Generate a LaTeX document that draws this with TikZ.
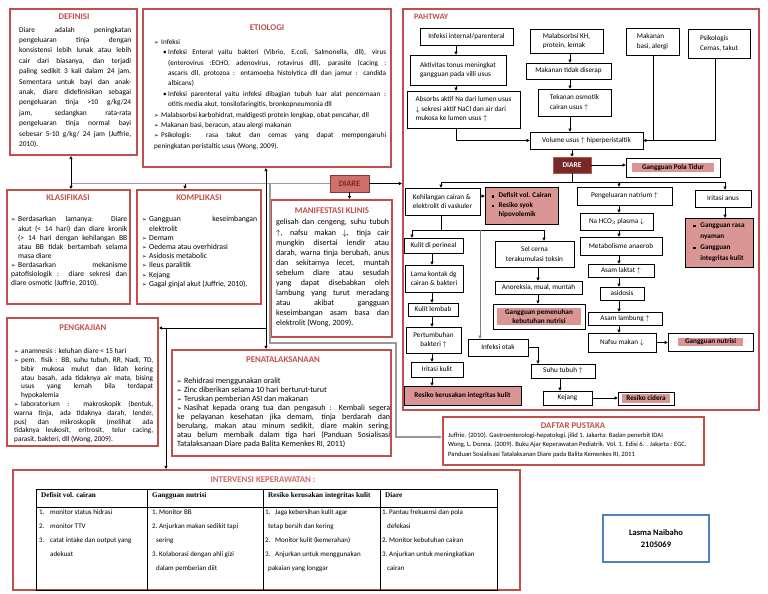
\documentclass[tikz,border=0pt]{standalone}
\usepackage{fontspec}
\setmainfont{Carlito}
\newfontfamily\dejavu{DejaVu Sans}
\newfontfamily\serifH{Liberation Serif}
\usetikzlibrary{arrows.meta}
\definecolor{boxred}{RGB}{192,80,77}
\definecolor{salm}{RGB}{217,150,148}
\definecolor{maroonD}{RGB}{118,42,40}
\definecolor{lblue}{RGB}{79,129,189}
\definecolor{diarefill}{RGB}{208,112,106}
\newcommand{\pfs}{\fontsize{7.2}{9.5}\selectfont}
\newcommand{\ttlfs}{\fontsize{8.8}{9}\selectfont\bfseries}
\newcommand{\bfz}[2]{\fontsize{#1}{#2}\selectfont}
\newcommand{\arw}{\makebox[7pt][l]{\dejavu\fontsize{5.6}{6}\selectfont ➢}}
\newcommand{\itm}{\par\leftskip=0pt\hangindent=7pt\hangafter=1\noindent\arw}
\newcommand{\sbl}{\par\leftskip=9pt\hangindent=5pt\hangafter=1\noindent\makebox[5pt][l]{•}}
\newcommand{\sq}{\makebox[7pt][l]{\rule[0.4pt]{2.4pt}{2.4pt}}}
\newcommand{\hl}[2]{{\setlength{\fboxsep}{0.8pt}\colorbox{salm}{\makebox[#1][c]{\rule[-1.9pt]{0pt}{7pt}#2}}}}
\newcommand{\nm}[2]{\makebox[#1][l]{#2}}
\newcommand{\B}[7][]{\node[pb,minimum width={#5-#3},minimum height={#6-#4},#1] (#2) at ({(#3+#5)/2},{(#4+#6)/2}) {#7};}
\tolerance=10000 \hbadness=10000
\begin{document}
\begin{tikzpicture}[x=1pt,y=-1pt,
  pb/.style={draw=black,line width=0.6pt,fill=white,inner sep=1pt,align=center,font=\pfs},
  rbox/.style={draw=boxred,line width=2.2pt,fill=white},
  ttl/.style={text=boxred,font=\ttlfs,inner sep=0pt},
  body/.style={anchor=north west,inner sep=0pt,align=justify},
  arr/.style={line width=0.6pt,-{Triangle[length=3pt,width=3pt]}},
  arrb/.style={line width=0.6pt,{Triangle[length=3pt,width=3pt]}-{Triangle[length=3pt,width=3pt]}},
  ln/.style={line width=0.6pt},
  gl/.style={draw=gray!80,line width=1.1pt},
  col/.style={anchor=north west,inner sep=0pt,align=left,font=\bfz{7}{14}},
  hdr/.style={anchor=base west,inner sep=0pt,font=\serifH\fontsize{7.2}{8}\selectfont\bfseries}
]
\useasboundingbox (0,0) rectangle (768,594);
\fill[white] (0,0) rectangle (768,594);

% ---------- red boxes ----------
\B[rbox]{defin}{10}{9}{137}{155}{}
\B[rbox]{etio}{143}{9}{391}{167}{}
\B[rbox]{klas}{7}{190}{130}{304}{}
\B[rbox]{komp}{137}{190}{261}{304}{}
\B[rbox]{manif}{271}{200}{392}{337}{}
\B[rbox]{pengk}{7}{318}{158}{446}{}
\B[rbox]{penat}{172}{350}{391}{456}{}
\B[rbox]{path}{403}{9}{759}{410}{}
\B[rbox]{daft}{443}{417}{704}{465}{}
\B[rbox]{interv}{13}{470}{520}{590}{}
\B[draw=lblue,line width=1.6pt,font=\fontsize{8.5}{12}\selectfont\bfseries]{lasma}{603}{515}{709}{562}{Lasma Naibaho\\2105069}

% ---------- titles ----------
\node[ttl] (tDef) at (74,17) {DEFINISI};
\node[ttl] (tEti) at (267,28) {ETIOLOGI};
\node[ttl] (tKla) at (68,198) {KLASIFIKASI};
\node[ttl] (tKom) at (199,198) {KOMPLIKASI};
\node[ttl] (tMan) at (332,211) {MANIFESTASI KLINIS};
\node[ttl] (tPen) at (83,328) {PENGKAJIAN};
\node[ttl] (tPnt) at (283,360) {PENATALAKSANAAN};
\node[ttl] (tDaf) at (573,426) {DAFTAR PUSTAKA};
\node[ttl,text=boxred!85] (tInt) at (263,480) {INTERVENSI KEPERAWATAN :};
\node[ttl,anchor=west,font=\fontsize{8.3}{9}\selectfont\bfseries] (tPat) at (414,17) {PAHTWAY};

% ---------- bodies ----------
\node[body,text width=112pt,font=\bfz{7.4}{10.4}] (bDef) at (19,26.7) {Diare adalah peningkatan\linebreak pengeluaran tinja dengan\linebreak konsistensi lebih lunak atau lebih\linebreak cair dari biasanya, dan terjadi\linebreak paling sedikit 3 kali dalam 24 jam.\linebreak Sementara untuk bayi dan anak-\linebreak anak, diare didefinisikan sebagai\linebreak pengeluaran tinja >10 g/kg/24\linebreak jam, sedangkan rata-rata\linebreak pengeluaran tinja normal bayi\linebreak sebesar 5-10 g/kg/ 24 jam (Juffrie,\linebreak 2010).};

\node[body,text width=232pt,font=\bfz{7.2}{10.4}] (bEti) at (154,33.8) {\itm Infeksi
\sbl Infeksi Enteral yaitu bakteri (Vibrio, E.coli, Salmonella, dll), virus\linebreak (enterovirus :ECHO, adenovirus, rotavirus dll), parasite (cacing :\linebreak ascaris dll, protozoa : entamoeba histolytica dll dan jamur : candida\linebreak albicans)
\sbl Infeksi parenteral yaitu infeksi dibagian tubuh luar alat pencernaan :\linebreak otitis media akut, tonsilofaringitis, bronkopneumonia dll
\itm Malabsorbsi karbohidrat, maldigesti protein lengkap, obat pencahar, dll
\itm Makanan basi, beracun, atau alergi makanan
\itm Psikologis: rasa takut dan cemas yang dapat mempengaruhi\linebreak peningkatan peristaltic usus (Wong, 2009).};

\node[body,text width=116pt,font=\bfz{7.5}{9.1}] (bKla) at (11,212.6) {\itm Berdasarkan lamanya: Diare\linebreak akut (< 14 hari) dan diare kronik\linebreak (> 14 hari dengan kehilangan BB\linebreak atau BB tidak bertambah selama\linebreak masa diare
\itm Berdasarkan mekanisme\linebreak patofisiologik : diare sekresi dan\linebreak diare osmotic (Juffrie, 2010).};

\node[body,text width=115pt,font=\bfz{7.7}{9.2}] (bKom) at (142,212.5) {\itm Gangguan keseimbangan\linebreak elektrolit
\itm Demam
\itm Oedema atau overhidrasi
\itm Asidosis metabolic
\itm Ileus paralitik
\itm Kejang
\itm Gagal ginjal akut (Juffrie, 2010).};

\node[body,text width=113pt,font=\bfz{8}{10.1}] (bMan) at (276,219.2) {gelisah dan cengeng, suhu tubuh\linebreak $\uparrow$, nafsu makan $\downarrow$, tinja cair\linebreak mungkin disertai lendir atau\linebreak darah, warna tinja berubah, anus\linebreak dan sekitarnya lecet, muntah\linebreak sebelum diare atau sesudah\linebreak yang dapat disebabkan oleh\linebreak lambung yang turut meradang\linebreak atau akibat gangguan\linebreak keseimbangan asam basa dan\linebreak elektrolit (Wong, 2009).};

\node[body,text width=139pt,font=\bfz{7.3}{8.8}] (bPen) at (14,344.7) {\itm anamnesis : keluhan diare < 15 hari
\itm pem. fisik : BB, suhu tubuh, RR, Nadi, TD,\linebreak bibir mukosa mulut dan lidah kering\linebreak atau basah, ada tidaknya air mata, bising\linebreak usus yang lemah bila terdapat\linebreak hypokalemia
\itm laboratorium : makroskopik (bentuk,\linebreak warna tinja, ada tidaknya darah, lender,\linebreak pus) dan mikroskopik (melihat ada\linebreak tidaknya leukosit, eritrosit, telur cacing,\linebreak parasit, bakteri, dll (Wong, 2009).};

\node[body,text width=213pt,font=\bfz{8}{9}] (bPnt) at (177,374.2) {\itm Rehidrasi menggunakan oralit
\itm Zinc diberikan selama 10 hari berturut-turut
\itm Teruskan pemberian ASI dan makanan
\itm \bfz{8}{10.9}Nasihat kepada orang tua dan pengasuh : Kembali segera\linebreak ke pelayanan kesehatan jika demam, tinja berdarah dan\linebreak berulang, makan atau minum sedikit, diare makin sering,\linebreak atau belum membaik dalam tiga hari (Panduan Sosialisasi\linebreak Tatalaksanaan Diare pada Balita Kemenkes RI, 2011)};

\node[anchor=north west,inner sep=0pt,align=left,font=\bfz{6.6}{9.6}] (bDaf) at (448,432.2) {Juffrie. (2010). Gastroenterologi-hepatologi, jilid 1. Jakarta: Badan penerbit IDAI\\Wong, L. Donna. (2009). Buku Ajar Keperawatan Pediatrik. Vol. 1. Edisi 6. . Jakarta : EGC.\\Panduan Sosialisasi Tatalaksanan Diare pada Balita Kemenkes RI, 2011};

% ---------- DIARE (left) ----------
\B[fill=diarefill,draw=boxred!70!black,line width=0.8pt,text=maroonD,font=\fontsize{8.4}{9}\selectfont\bfseries]{diareL}{330}{175}{369}{192}{DIARE}

% ---------- left connectors ----------
\coordinate (hL) at (71,183.5);
\coordinate (hK) at (185,183.5);
\coordinate (hE) at (266,183.5);
\coordinate (g1) at (270,183.5);
\coordinate (g2) at (270,343);
\coordinate (g3) at (396,343);
\coordinate (g4) at (396,437);
\coordinate (pg) at (266,328);
\coordinate (pgL) at (166,328);
\draw[gl] (diareL.west) -- (hL);
\draw[arrb] (defin.south -| hL) -- (klas.north -| hL);
\draw[arr] (hK) -- (komp.north -| hK);
\draw[arr] (hE) -- (etio.south -| hE);
\draw[arr] (hE) -- (penat.north -| hE);
\draw[ln] (pg) -- (pgL);
\draw[arr] (pgL) -- (pengk.east |- pgL);
\draw[arr] (pgL) -- (interv.north -| pgL);
\draw[gl,-{Triangle[length=3pt,width=3pt]}] (g1) -- (g2) -- (g3) -- (g4) -- (daft.west |- g4);
\draw[arr] (diareL.east) -- (diareL.east -| path.west);
\draw[arr] (diareL.south) -- (diareL.south |- manif.north);

% ---------- pathway nodes ----------
\B{inf}{420}{28}{513}{45}{Infeksi internal/parenteral}
\B[align=left]{akt}{410}{55}{506}{85}{Aktivitas tonus meningkat\\gangguan pada villi usus}
\B[align=left]{abs}{407}{91}{520}{128}{Absorbs aktif Na dari lumen usus\\$\downarrow$ sekresi aktif NaCl dan air dari\\mukosa ke lumen usus $\uparrow$}
\B[align=left]{mal}{530}{29}{603}{53}{Malabsorbsi KH,\\protein, lemak}
\B{mtd}{526}{63}{611}{79}{Makanan tidak diserap}
\B[align=left]{tek}{538}{89}{611}{116}{Tekanan osmotik\\cairan usus $\uparrow$}
\B[align=left]{mba}{626}{28}{679}{55}{Makanan\\basi, alergi}
\B[align=left]{psi}{688}{29}{750}{58}{Psikologis\\Cemas, takut}
\B{vol}{530}{132}{643}{149}{Volume usus $\uparrow$ hiperperistaltik}
\B[fill=maroonD,draw=boxred,text=white,font=\fontsize{7.4}{9}\selectfont\bfseries]{dia}{553}{157}{591}{173}{DIARE}
\B{gpt}{626}{158}{720}{177}{\hl{80pt}{\bfseries Gangguan Pola Tidur}}
\B[align=left]{keh}{405}{188}{480}{215}{Kehilangan cairan \&\\elektrolit di vaskuler}
\B[fill=salm,align=left,font=\pfs\bfseries]{def}{485}{187}{558}{224}{\sq Defisit vol. Cairan\\\sq Resiko syok\\\hspace*{7pt}hipovolemik}
\B{pen}{577}{187}{672}{205}{Pengeluaran natrium $\uparrow$}
\B{iri}{695}{190}{751}{207}{Iritasi anus}
\B[fill=salm,align=left,font=\fontsize{7.2}{11}\selectfont\bfseries]{grn}{685}{218}{753}{267}{\sq Gangguan rasa\\\hspace*{7pt}nyaman\\\sq Gangguan\\\hspace*{7pt}integritas kulit}
\B[align=left]{kper}{404}{238}{463}{253}{Kulit di perineal}
\B[align=left]{lama}{405}{265}{463}{292}{Lama kontak dg\\cairan \& bakteri}
\B{sel}{495}{241}{574}{267}{Sel cerna\\terakumulasi toksin}
\B{ano}{495}{281}{582}{294}{Anoreksia, mual, muntah}
\B{nah}{580}{213}{653}{230}{Na HCO$_3$ plasma $\downarrow$}
\B{met}{580}{237}{662}{255}{Metabolisme anaerob}
\B{asl}{588}{264}{654}{277}{Asam laktat $\uparrow$}
\B{asi}{600}{287}{644}{300}{asidosis}
\B{klem}{408}{303}{458}{316}{Kulit lembab}
\B{gpn}{493}{304}{585}{329}{{\setlength{\fboxsep}{1pt}\colorbox{salm}{\parbox{82pt}{\centering\bfseries Gangguan pemenuhan\\kebutuhan nutrisi}}}}
\B{alm}{588}{312}{662}{325}{Asam lambung $\uparrow$}
\B{pert}{406}{327}{461}{353}{Pertumbuhan\\bakteri $\uparrow$}
\B{naf}{588}{333}{656}{352}{Nafsu makan $\downarrow$}
\B{gnu}{668}{333}{753}{351}{\hl{63pt}{\bfseries Gangguan nutrisi}}
\B{iot}{468}{339}{528}{356}{Infeksi otak}
\B{ikl}{411}{362}{463}{377}{Iritasi kulit}
\B{suh}{531}{364}{595}{378}{Suhu tubuh $\uparrow$}
\B[fill=salm,font=\pfs\bfseries]{rki}{404}{386}{521}{405}{Resiko kerusakan integritas kulit}
\B{kej}{543}{391}{592}{405}{Kejang}
\B{rci}{618}{392}{674}{405}{\hl{46pt}{\bfseries Resiko cidera}}

% ---------- pathway connectors ----------
\coordinate (xA) at (456,0);
\coordinate (xB) at (570,0);
\coordinate (xC) at (653,0);
\coordinate (xD) at (715,0);
\coordinate (xF) at (619,0);
\coordinate (xG) at (725,0);
\coordinate (xH) at (412,0);
\coordinate (xI) at (544,0);
\coordinate (xJ) at (480,0);
\coordinate (xK) at (432,0);
\coordinate (xL) at (538,0);
\coordinate (xM) at (560,0);
\coordinate (hb) at (572,182);
\coordinate (hk) at (441,230);
\coordinate (hj) at (480,230);
\draw[arr] (inf.south -| xA) -- (akt.north -| xA);
\draw[arr] (akt.south -| xA) -- (abs.north -| xA);
\draw[arr] (abs.south -| xA) |- (vol.west);
\draw[arr] (mal.south -| xB) -- (mtd.north -| xB);
\draw[arr] (mtd.south -| xB) -- (tek.north -| xB);
\draw[arr] (tek.south -| xB) -- (vol.north -| xB);
\draw[ln] (psi.south -| xD) |- (vol.east -| xC);
\draw[arr] (mba.south -| xC) |- (vol.east);
\draw[arr] (vol.south -| dia.north) -- (dia.north);
\draw[arr] (dia.east) -- (dia.east -| gpt.west);
\draw[ln] (dia.south) -- (hb);
\draw[arr] (hb) -| (keh.north -| hk);
\draw[arr] (hb) -| (pen.north -| xF);
\draw[arr] (hb) -| (iri.north -| xG);
\draw[arr] (keh.east |- 0,196) -- (def.west |- 0,196);
\draw[arr] (iri.south -| xG) -- (grn.north -| xG);
\draw[ln] (keh.south -| hk) -- (hk);
\draw[arr] (hk) -| (kper.north -| xH);
\draw[arr] (hk) -| (sel.north -| xI);
\draw[arr,draw=gray] (hj) -- (iot.north -| xJ);
\draw[arr] (kper.south -| xK) -- (lama.north -| xK);
\draw[arr] (lama.south -| xK) -- (klem.north -| xK);
\draw[arr] (klem.south -| xK) -- (pert.north -| xK);
\draw[arr] (pert.south -| xK) -- (ikl.north -| xK);
\draw[arr] (ikl.south -| xK) -- (rki.north -| xK);
\draw[arr] (sel.south -| xL) -- (ano.north -| xL);
\draw[arr] (ano.south -| xL) -- (gpn.north -| xL);
\draw[arr] (pen.south -| xF) -- (nah.north -| xF);
\draw[arr] (nah.south -| xF) -- (met.north -| xF);
\draw[arr] (met.south -| xF) -- (asl.north -| xF);
\draw[arr] (asl.south -| xF) -- (asi.north -| xF);
\draw[arr] (asi.south -| xF) -- (alm.north -| xF);
\draw[arr] (alm.south -| xF) -- (naf.north -| xF);
\draw[arr] (naf.east) -- (naf.east -| gnu.west);
\draw[arr] (iot.east) -| (suh.north -| xL);
\draw[arr] (suh.south -| xM) -- (kej.north -| xM);
\draw[arr] (kej.east) -- (kej.east -| rci.west);

% ---------- intervention table ----------
\draw[line width=0.8pt] (36,489) rectangle (497,590);
\draw[line width=0.8pt] (36,507) -- (497,507);
\draw[line width=0.8pt] (147,489) -- (147,590);
\draw[line width=0.8pt] (263,489) -- (263,590);
\draw[line width=0.8pt] (380,489) -- (380,590);
\node[hdr] (h1) at (41,497) {Defisit vol. cairan};
\node[hdr] (h2) at (152,497) {Gangguan nutrisi};
\node[hdr] (h3) at (268,497) {Resiko kerusakan integritas kulit};
\node[hdr] (h4) at (385,497) {Diare};
\node[col] (c1) at (39,509) {\nm{11pt}{1.}monitor status hidrasi\\\nm{11pt}{2.}monitor TTV\\\nm{11pt}{3.}catat intake dan output yang\\\hspace*{11pt}adekuat};
\node[col] (c2) at (152,509) {\nm{7pt}{1.}Monitor BB\\\nm{7pt}{2.}Anjurkan makan sedikit tapi\\\hspace*{4pt}sering\\\nm{7pt}{3.}Kolaborasi dengan ahli gizi\\\hspace*{4pt}dalam pemberian diit};
\node[col] (c3) at (265,509) {\nm{10pt}{1.}Jaga kebersihan kulit agar\\\hspace*{3pt}tetap bersih dan kering\\\nm{10pt}{2.}Monitor kulit (kemerahan)\\\nm{10pt}{3.}Anjurkan untuk menggunakan\\\hspace*{3pt}pakaian yang longgar};
\node[col] (c4) at (382,509) {\nm{7pt}{1.}Pantau frekuensi dan pola\\\hspace*{5pt}defekasi\\\nm{7pt}{2.}Monitor kebutuhan cairan\\\nm{7pt}{3.}Anjurkan untuk meningkatkan\\\hspace*{5pt}cairan};
\end{tikzpicture}
\end{document}
